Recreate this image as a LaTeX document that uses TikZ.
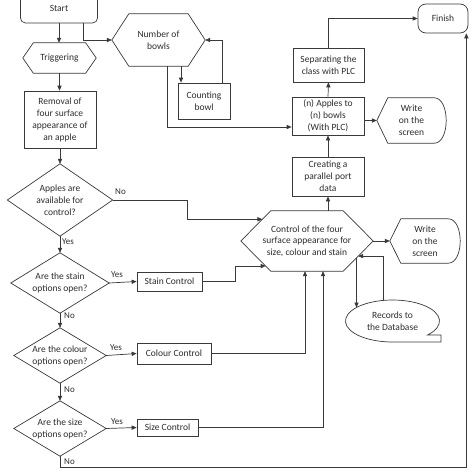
\documentclass[tikz,border=0pt]{standalone}
\usepackage{fontspec}
\setmainfont{Carlito}
\usetikzlibrary{arrows.meta,calc}
\definecolor{linec}{HTML}{3A3A3A}
\definecolor{textc}{HTML}{2E2E2E}
\newcommand\hexout[2]{\draw[wire] (#1.west) -- ([xshift=#2]#1.north west) -- ([xshift=-#2]#1.north east) -- (#1.east) -- ([xshift=-#2]#1.south east) -- ([xshift=#2]#1.south west) -- cycle;}
\newcommand\diaout[1]{\draw[wire] (#1.west) -- (#1.north) -- (#1.east) -- (#1.south) -- cycle;}
\newcommand\dispout[1]{\draw[wire] (#1.west) -- ([xshift=11pt]#1.north west) -- ([xshift=-12pt]#1.north east) .. controls ([xshift=4pt]#1.north east) and ([xshift=4pt]#1.south east) .. ([xshift=-12pt]#1.south east) -- ([xshift=11pt]#1.south west) -- cycle;}
\begin{document}
\begin{tikzpicture}[x=1pt,y=-1pt,
  every node/.style={font=\fontsize{9.5}{12}\selectfont, text=textc, align=center, inner sep=0pt},
  wire/.style={draw=linec, line width=0.7pt},
  box/.style={draw=linec, line width=0.7pt},
  shapeonly/.style={draw=none},
  arr/.style={draw=linec, line width=0.7pt, -{Triangle[length=5pt,width=4.2pt]}},
  lab/.style={anchor=west, font=\fontsize{9}{11}\selectfont}
]
\useasboundingbox (0,0) rectangle (474,474);
\fill[white] (0,0) rectangle (474,474);

% left column
\node[box, rounded corners=5pt, minimum width=77pt, minimum height=30pt] (start) at (59,8) {Start};
\node[shapeonly, minimum width=73pt, minimum height=30pt] (trig) at (59.5,58) {Triggering};
\hexout{trig}{10.5pt}
\node[box, minimum width=72pt, minimum height=57pt] (removal) at (60,119.5) {Removal of\\four surface\\appearance of\\an apple};
\node[shapeonly, minimum width=105pt, minimum height=72pt] (d1) at (60,200) {Apples are\\available for\\control?};
\diaout{d1}
\node[shapeonly, minimum width=98pt, minimum height=60pt] (d2) at (60,283) {Are the stain\\options open?};
\diaout{d2}
\node[shapeonly, minimum width=92pt, minimum height=55pt] (d3) at (60,355.5) {Are the colour\\options open?};
\diaout{d3}
\node[shapeonly, minimum width=92pt, minimum height=55pt] (d4) at (60,428.5) {Are the size\\options open?};
\diaout{d4}

% control boxes
\node[box, minimum width=65pt, minimum height=19pt] (stain) at (169.5,281.5) {Stain Control};
\node[box, minimum width=74pt, minimum height=21pt] (colour) at (174,353.5) {Colour Control};
\node[box, minimum width=61pt, minimum height=17pt] (size) at (167.5,427.5) {Size Control};

% top middle
\node[shapeonly, minimum width=93pt, minimum height=52pt] (numb) at (158.5,40) {Number of\\bowls};
\hexout{numb}{17pt}
\node[box, minimum width=52pt, minimum height=36pt] (count) at (204,101) {Counting\\bowl};

% right column
\node[box, rounded corners=8pt, minimum width=50pt, minimum height=29pt] (finish) at (443,18.5) {Finish};
\node[box, minimum width=71pt, minimum height=34pt] (sep) at (328.5,65) {Separating the\\class with PLC};
\node[box, minimum width=72pt, minimum height=38pt] (apples) at (328,116) {(n) Apples to\\(n) bowls\\(With PLC)};
\node[shapeonly, minimum width=69pt, minimum height=45pt] (write1) at (411.5,120.5) {Write\\on the\\screen};
\dispout{write1}
\node[box, minimum width=72pt, minimum height=39pt] (create) at (328,176.5) {Creating a\\parallel port\\data};
\node[shapeonly, minimum width=132pt, minimum height=60pt, font=\fontsize{9.5}{11.5}\selectfont] (ctrl) at (307,241) {Control of the four\\surface appearance for\\size, colour and stain};
\hexout{ctrl}{30pt}
\node[shapeonly, minimum width=70pt, minimum height=44pt] (write2) at (425,241) {Write\\on the\\screen};
\dispout{write2}
\node[shapeonly, minimum width=94pt, minimum height=42pt] (rec) at (392.5,321) {Records to\\the Database};
\draw[wire] ($(rec.center)+(-42:47pt and 21pt)$) arc[start angle=-42, end angle=270, x radius=47pt, y radius=21pt] -- ($(rec.center)+(48.5pt,-21pt)$) -- ($(rec.center)+(48.5pt,-14pt)$) -- cycle;

% connectors left column
\draw[arr] (start.south) -- (start.south |- trig.north);
\draw[arr] ([xshift=24pt]start.south) |- (numb.west);
\draw[arr] (trig.south) -- (trig.south |- removal.north);
\draw[arr] (removal.south) -- (d1.north);
\draw[arr] (d1.south) -- (d2.north);
\draw[arr] (d2.south) -- (d3.north);
\draw[arr] (d3.south) -- (d4.north);
\draw[arr] (d2.east) -- (stain.west);
\draw[arr] (d3.east) -- (colour.west);
\draw[arr] (d4.east) -- (size.west);

% to control hexagon
\draw[arr] (d1.east) -- ++(75pt,0) |- ($(ctrl.west)!0.72!([xshift=30pt]ctrl.north west)$);
\draw[arr] (stain.east) -- ++(33pt,0) |- ($(ctrl.west)!0.83!([xshift=30pt]ctrl.south west)$);
\draw[arr] (colour.east) -| ([xshift=-2pt]ctrl.south);
\draw[arr] (size.east) -| ([xshift=16pt]ctrl.south);
\draw[arr] (d4.south) -- ++(0,11) -| ([xshift=-2pt]finish.south east);

% bowls
\draw[arr] ([xshift=-23pt]count.north |- numb.south) -- ([xshift=-23pt]count.north);
\draw[arr] ([xshift=18pt]count.north) |- (numb.east);
\draw[arr] ([xshift=8.5pt]numb.south) |- ([yshift=-11pt]apples.west);

% right column
\draw[arr] (ctrl.north -| create.south) -- (create.south);
\draw[arr] (create.north) -- (apples.south);
\draw[arr] (apples.north) -- (sep.south);
\draw[arr] (sep.north) |- (finish.west);
\draw[arr] (apples.east |- write1.west) -- (write1.west);
\draw[arr] (ctrl.east) -- (write2.west);

% records
\coordinate (ra) at ($(rec.center)+(140:47pt and 21pt)$);
\coordinate (rb) at ($(rec.center)+(101:47pt and 21pt)$);
\coordinate (sa) at ($(ctrl.east)!0.55!([xshift=-30pt]ctrl.south east)$);
\coordinate (sb) at ($(ctrl.east)!0.50!([xshift=-30pt]ctrl.south east)$);
\draw[arr] (ra |- sa) -- (ra);
\draw[arr] (rb) |- (sb);

% labels
\node[lab] (l1) at (115,192) {No};
\node[lab] (l2) at (62,242) {Yes};
\node[lab] (l3) at (111,275) {Yes};
\node[lab] (l4) at (64,316) {No};
\node[lab] (l5) at (110,348) {Yes};
\node[lab] (l6) at (64,390) {No};
\node[lab] (l7) at (111,422) {Yes};
\node[lab] (l8) at (64,462) {No};
\end{tikzpicture}
\end{document}
